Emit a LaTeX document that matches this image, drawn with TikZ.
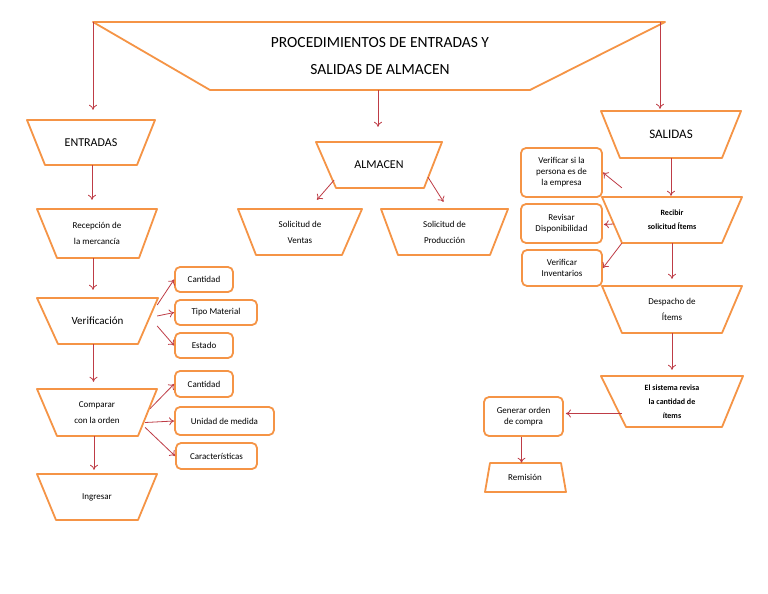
\documentclass[tikz,border=0pt]{standalone}
\usepackage{fontspec}
\setmainfont{Carlito}
\usetikzlibrary{arrows.meta,calc}
\definecolor{org}{RGB}{245,148,70}
\definecolor{arr}{RGB}{190,60,70}
\tikzset{
 trapline/.style={draw=org,line width=1.8pt,line join=round},
 rbox/.style={draw=org,line width=1.8pt,rounded corners=5pt,align=center,font=\fontsize{9}{11}\selectfont,inner sep=0pt},
 ar/.style={draw=arr,line width=0.8pt,-{To[length=5pt,width=8pt]}},
 txt/.style={inner sep=0pt,align=center,font=\fontsize{9}{15}\selectfont},
}
\newcommand\trap[9]{% name,tlx,trx,ty,blx,brx,by,font,text
 \draw[trapline] (#2,#4)--(#3,#4)--(#6,#7)--(#5,#7)--cycle;
 \node[txt,font=#8,minimum width={(#3-#2)*1pt},minimum height={(#7-#4)*1pt}] (#1) at ({(#2+#3)/2},{(#4+#7)/2}) {#9};}
\newcommand\rbx[6]{% name,x1,x2,y1,y2,text
 \node[rbox,minimum width={(#3-#2)*1pt},minimum height={(#5-#4)*1pt}] (#1) at ({(#2+#3)/2},{(#4+#5)/2}) {#6};}
\begin{document}
\begin{tikzpicture}[x=1pt,y=-1pt]
\useasboundingbox[fill=white] (0,0) rectangle (768,594);
% title
\draw[trapline] (93,22)--(665,22)--(530,90)--(210,90)--cycle;
\node[inner sep=0pt,align=center,font=\fontsize{15.5}{27}\selectfont] (title) at (380,56) {PROCEDIMIENTOS DE ENTRADAS Y\\SALIDAS DE ALMACEN};
\coordinate (tl) at (93,22);
\coordinate (tr) at (660,22);
\coordinate (tc) at (378,90);
\trap{entradas}{27}{155}{120}{45}{137}{165}{\fontsize{12}{13}\selectfont}{ENTRADAS}
\trap{almacen}{316}{442}{142}{336}{424}{188}{\fontsize{12}{13}\selectfont}{ALMACEN}
\trap{salidas}{601}{741}{111}{620}{722}{158}{\fontsize{13}{14}\selectfont}{SALIDAS}
\trap{recep}{37}{157}{209}{57}{139}{258}{\fontsize{9}{16}\selectfont}{Recepción de\\la mercancía}
\trap{ventas}{238}{362}{209}{256}{342}{255}{\fontsize{9}{16}\selectfont}{Solicitud de\\Ventas}
\trap{prod}{381}{508}{209}{398}{490}{255}{\fontsize{9}{16}\selectfont}{Solicitud de\\Producción}
\trap{verif}{37}{158}{298}{58}{138}{344}{\fontsize{11}{12}\selectfont}{Verificación}
\trap{comp}{37}{157}{389}{57}{138}{436}{\fontsize{9}{16}\selectfont}{Comparar\\con la orden}
\trap{ingr}{37}{157}{474}{56}{138}{520}{\fontsize{9}{12}\selectfont}{Ingresar}
\trap{recibir}{602}{742}{197}{622}{722}{243}{\fontsize{8}{14}\selectfont\bfseries}{Recibir\\solicitud Ítems}
\trap{despacho}{602}{742}{286}{622}{722}{333}{\fontsize{9}{16}\selectfont}{Despacho de\\Ítems}
\trap{sistema}{601}{743}{376}{626}{722}{427}{\fontsize{8}{14}\selectfont\bfseries}{El sistema revisa\\la cantidad de\\ítems}
\draw[trapline] (490,463)--(561,463)--(566,492)--(485,492)--cycle;
\node[txt] (remision) at (525,477) {Remisión};
% boxes
\rbx{cant1}{175}{233}{267}{292}{Cantidad}
\rbx{tipo}{175}{257}{300}{325}{Tipo Material}
\rbx{estado}{175}{233}{333}{358}{Estado}
\rbx{cant2}{175}{233}{371}{397}{Cantidad}
\rbx{unidad}{175}{274}{407}{435}{Unidad de medida}
\rbx{carac}{176}{257}{443}{469}{Características}
\begin{scope}[every node/.append style={font=\fontsize{8}{14}\selectfont\bfseries}]
\rbx{persona}{521}{602}{148}{197}{Verificar si la\\persona es de\\la empresa}
\rbx{dispon}{521}{602}{204}{243}{Revisar\\Disponibilidad}
\rbx{invent}{522}{602}{250}{286}{Verificar\\Inventarios}
\rbx{generar}{484}{563}{397}{436}{Generar orden\\de compra}
\end{scope}
% arrows
\draw[ar,shorten >=10pt] (tl) -- (tl |- entradas.north);
\draw[ar,shorten >=2pt] (tr) -- (tr |- salidas.north);
\draw[ar,shorten >=15pt] (tc) -- (tc |- almacen.north);
\draw[ar,shorten >=9pt] ([xshift=1pt]entradas.south) -- ([xshift=1pt]entradas.south |- recep.north);
\draw[ar,shorten >=8pt] ([xshift=-4pt]recep.south) -- ([xshift=-4pt]recep.south |- verif.north);
\draw[ar,shorten >=7pt] ([xshift=-4pt]verif.south) -- ([xshift=-4pt]verif.south |- comp.north);
\draw[ar,shorten >=4pt] ([xshift=-3pt]comp.south) -- ([xshift=-3pt]comp.south |- ingr.north);
\draw[ar] ($(verif.east)+(-1,-16)$) -- (cant1.west);
\draw[ar] ($(verif.east)+(-1,-5)$) -- (tipo.west);
\draw[ar] ($(verif.east)+(-1,5)$) -- (estado.west);
\draw[ar] ($(comp.east)+(-7,-4)$) -- (cant2.west);
\draw[ar] ($(comp.east)+(-12,10)$) -- (unidad.west);
\draw[ar] ($(comp.east)+(-12,15)$) -- (carac.west);
\draw[ar] ($(almacen.south)+(-45,-8)$) -- ($(ventas.north)+(17,-9)$);
\draw[ar] ($(almacen.south)+(49,-11)$) -- ($(prod.north)+(-1,-7)$);
\draw[ar,shorten >=1pt] (salidas.south) -- (salidas.south |- recibir.north);
\draw[ar,shorten >=7pt] (recibir.south) -- (recibir.south |- despacho.north);
\draw[ar,shorten >=6pt] (despacho.south) -- (despacho.south |- sistema.north);
\draw[ar] ($(recibir.north west)+(20,-9)$) -- (persona.east);
\draw[ar] ($(recibir.west)+(12,4)$) -- ($(dispon.east)+(1,1)$);
\draw[ar] ($(recibir.south west)+(20,0)$) -- (invent.east);
\draw[ar] ($(sistema.west)+(21,12)$) -- ($(generar.east)+(2,-3)$);
\draw[ar,shorten >=11pt] ([xshift=-2pt]generar.south) -- ([xshift=-2pt]generar.south |- remision.north);
\end{tikzpicture}
\end{document}
